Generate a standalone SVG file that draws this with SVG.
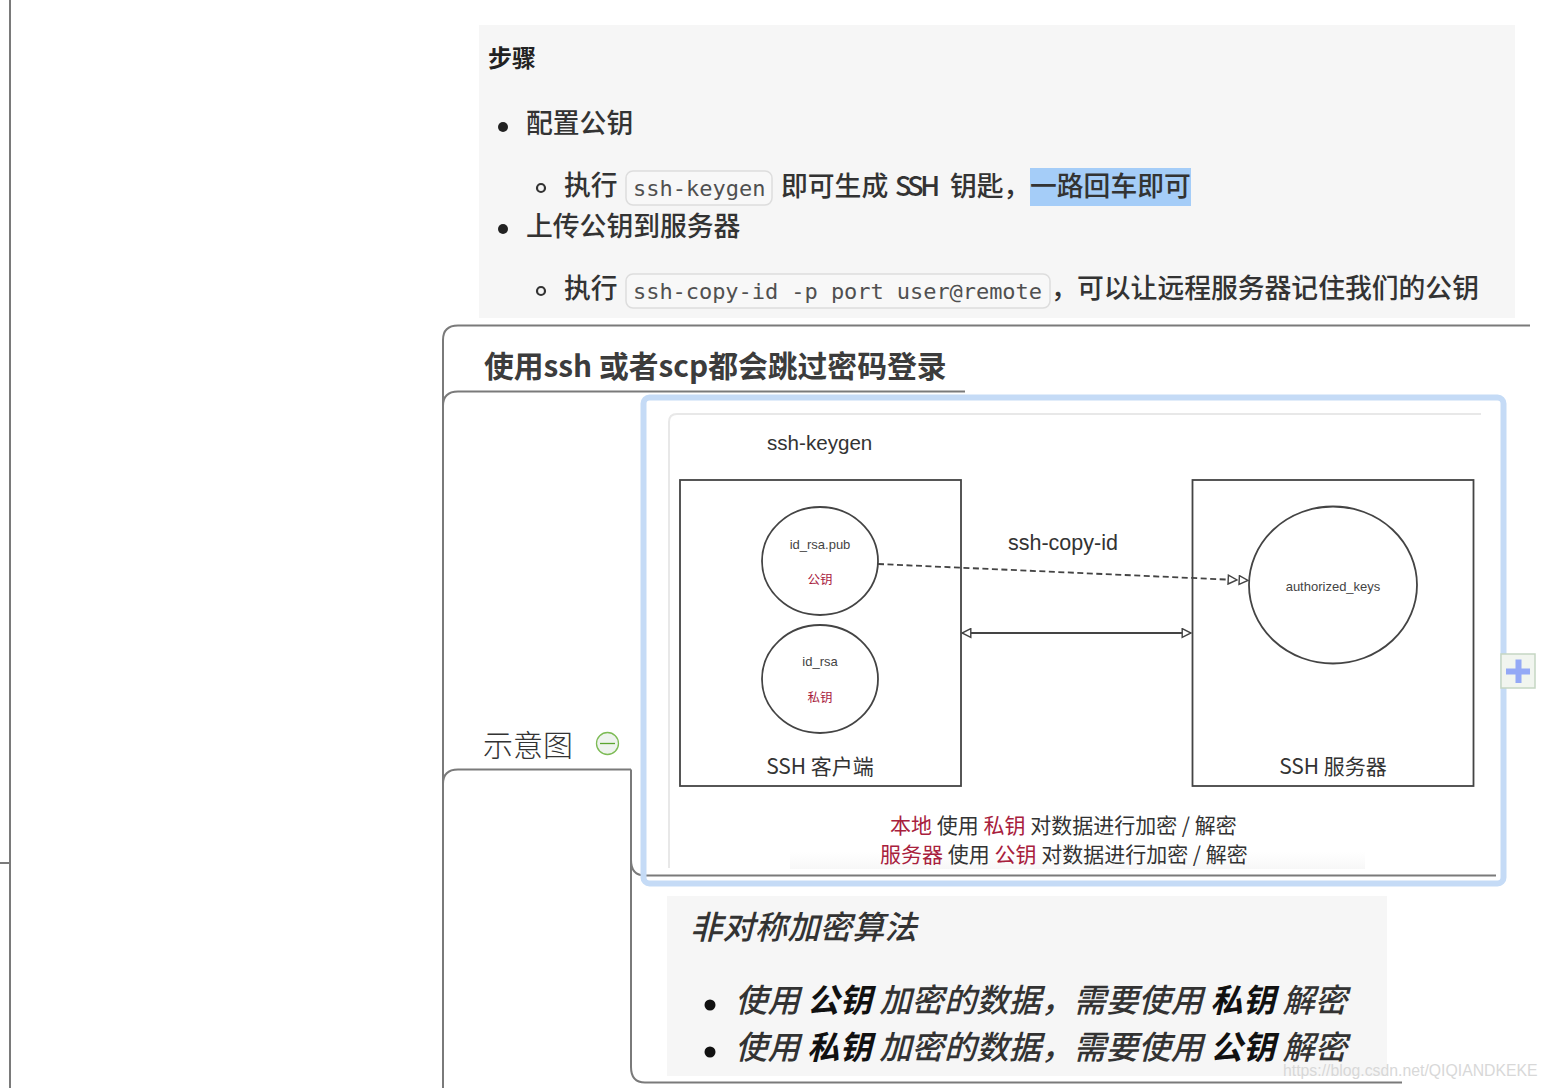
<svg xmlns="http://www.w3.org/2000/svg" width="1546" height="1088" viewBox="0 0 1546 1088">
<defs>
<style>
text{font-family:"Liberation Sans","Noto Sans CJK SC",sans-serif;fill:#333}
.cjk{font-family:"Noto Sans CJK SC","Liberation Sans",sans-serif}
.mono{font-family:"DejaVu Sans Mono","Liberation Mono","Noto Sans CJK SC",monospace;font-size:22px;fill:#505050}
.body{font-size:26.800px;font-weight:500;fill:#333}
.dg{font-size:21px;fill:#333}
.red{fill:#a8203c}
.it{font-size:32.400px;font-style:italic;font-weight:500;fill:#333}
.wire{fill:none;stroke:#7a7a7a;stroke-width:2}
.box{fill:#fff;stroke:#444;stroke-width:1.800}
.code{fill:#f8f8f8;stroke:#ddd;stroke-width:1.500}
.small{font-size:13px;fill:#444}
.key{font-size:12.500px;fill:#a8203c}
</style>
<marker id="tri" viewBox="0 0 10 10" refX="9" refY="5" markerWidth="11" markerHeight="11" markerUnits="userSpaceOnUse" orient="auto-start-reverse"><path d="M1 1L9 5L1 9Z" fill="#fff" stroke="#444" stroke-width="1.300"/></marker>
<linearGradient id="fade" x1="0" y1="0" x2="0" y2="1"><stop offset="0" stop-color="#f8f8f8" stop-opacity="0"/><stop offset="1" stop-color="#f7f7f7"/></linearGradient>
</defs>
<rect width="1546" height="1088" fill="#fff"/>

<g id="connectors">
<path class="wire" d="M10 0V1088M0 863H10"/>
<path class="wire" d="M1530 325.500H458Q443 325.500 443 340V1088"/>
<path class="wire" d="M965 391.500H458Q443 391.500 443 406V1088"/>
<path class="wire" d="M631 769.500H458Q443 769.500 443 784V1088"/>
<path class="wire" d="M631 769.500V860Q631 875.500 645 875.500H1496"/>
<path class="wire" d="M631 860V1067Q631 1082.500 645 1082.500H1402"/>
</g>

<g id="steps">
<rect x="479" y="25" width="1036" height="293" fill="#f6f6f6"/>
<text x="488" y="67" class="cjk" font-size="24" font-weight="700" style="fill:#222">步骤</text>
<circle cx="503" cy="127" r="5" fill="#222"/>
<text x="526" y="133" class="cjk body">配置公钥</text>
<circle cx="541" cy="188" r="4" fill="none" stroke="#333" stroke-width="2.200"/>
<text x="564" y="195" class="cjk body">执行</text>
<rect class="code" x="626" y="171" width="146" height="34" rx="7"/>
<text x="633" y="196" class="mono">ssh-keygen</text>
<text x="781" y="196" class="cjk body">即可生成</text>
<text x="895" y="196" class="cjk body" textLength="45">SSH</text>
<text x="950" y="196" class="cjk body">钥匙，</text>
<rect x="1030" y="168" width="161" height="38" fill="#a5cdf8"/>
<text x="1030" y="196" class="cjk body">一路回车即可</text>
<circle cx="503" cy="229" r="5" fill="#222"/>
<text x="526" y="236" class="cjk body">上传公钥到服务器</text>
<circle cx="541" cy="291" r="4" fill="none" stroke="#333" stroke-width="2.200"/>
<text x="564" y="298" class="cjk body">执行</text>
<rect class="code" x="626" y="274" width="424" height="34" rx="7"/>
<text x="633" y="299" class="mono" textLength="409">ssh-copy-id -p port user@remote</text>
<text x="1051" y="298" class="cjk body">，</text>
<text x="1077" y="298" class="cjk body">可以让远程服务器记住我们的公钥</text>
</g>

<g id="title">
<text x="484" y="377" class="cjk" font-size="29.800" font-weight="700" style="fill:#3c3c3c">使用ssh 或者scp都会跳过密码登录</text>
</g>

<g id="label">
<text x="483" y="756" class="cjk" font-size="30" font-weight="300" style="fill:#333">示意图</text>
<circle cx="607.500" cy="743.500" r="11" fill="#eef3ee" stroke="#7dbb55" stroke-width="1.300"/>
<path d="M600 743.500H615" stroke="#5ba52f" stroke-width="1.300"/>
</g>

<g id="image">
<rect x="643.500" y="397.500" width="860" height="486" rx="6" fill="none" stroke="#c5dbf6" stroke-width="6"/>
<path d="M669 868V422Q669 414 677 414H1481" fill="none" stroke="#e8e8e8" stroke-width="2"/>
<rect x="790" y="852" width="575" height="17" fill="url(#fade)"/>
<text x="767" y="450" font-size="20.600">ssh-keygen</text>
<g id="client">
<rect class="box" x="680" y="480" width="281" height="306"/>
<text x="820" y="774" class="cjk dg" text-anchor="middle">SSH 客户端</text>
</g>
<g id="server">
<rect class="box" x="1192.500" y="480" width="281" height="306"/>
<text x="1333" y="774" class="cjk dg" text-anchor="middle">SSH 服务器</text>
</g>
<g id="pub">
<ellipse cx="820" cy="561" rx="58" ry="54" fill="#fff" stroke="#444" stroke-width="1.800"/>
<text x="820" y="549" class="small" text-anchor="middle">id_rsa.pub</text>
<text x="820" y="584" class="cjk key" text-anchor="middle">公钥</text>
</g>
<g id="priv">
<ellipse cx="820" cy="679" rx="58" ry="54" fill="#fff" stroke="#444" stroke-width="1.800"/>
<text x="820" y="666" class="small" text-anchor="middle">id_rsa</text>
<text x="820" y="702" class="cjk key" text-anchor="middle">私钥</text>
</g>
<g id="keys">
<ellipse cx="1333" cy="585" rx="84" ry="78.500" fill="#fff" stroke="#444" stroke-width="1.800"/>
<text x="1333" y="591" class="small" text-anchor="middle">authorized_keys</text>
</g>
<text x="1008" y="550" font-size="21.500">ssh-copy-id</text>
<path d="M878 564L1237 580" fill="none" stroke="#444" stroke-width="1.800" stroke-dasharray="6 3.500" marker-end="url(#tri)"/>
<path d="M1237 580L1248 580.500" fill="none" stroke="none" marker-end="url(#tri)"/>
<path d="M962 633H1191" fill="none" stroke="#444" stroke-width="2" marker-start="url(#tri)" marker-end="url(#tri)"/>
<text x="890" y="833" class="cjk dg"><tspan class="red">本地</tspan> 使用 <tspan class="red">私钥</tspan> 对数据进行加密 / 解密</text>
<text x="880" y="862" class="cjk dg"><tspan class="red">服务器</tspan> 使用 <tspan class="red">公钥</tspan> 对数据进行加密 / 解密</text>
</g>

<g id="expand">
<rect x="1501" y="654" width="34" height="34" fill="#f1f5ef" stroke="#c5d6c3" stroke-width="1.500"/>
<path d="M1506 671.500H1530M1518.500 659.500V683" stroke="#94a9f6" stroke-width="6"/>
</g>

<g id="algo">
<rect x="667" y="896" width="720" height="180" fill="#f6f6f6"/>
<text x="690" y="939" class="cjk it">非对称加密算法</text>
<circle cx="710" cy="1005" r="5.500" fill="#111"/>
<text x="735" y="1012" class="cjk it">使用 <tspan font-weight="700" style="fill:#111">公钥</tspan> 加密的数据，需要使用 <tspan font-weight="700" style="fill:#111">私钥</tspan> 解密</text>
<circle cx="710" cy="1052" r="5.500" fill="#111"/>
<text x="735" y="1059" class="cjk it">使用 <tspan font-weight="700" style="fill:#111">私钥</tspan> 加密的数据，需要使用 <tspan font-weight="700" style="fill:#111">公钥</tspan> 解密</text>
</g>

<text x="1283" y="1076" font-size="15.800" style="fill:#d8d8d8">https://blog.csdn.net/QIQIANDKEKE</text>
</svg>
